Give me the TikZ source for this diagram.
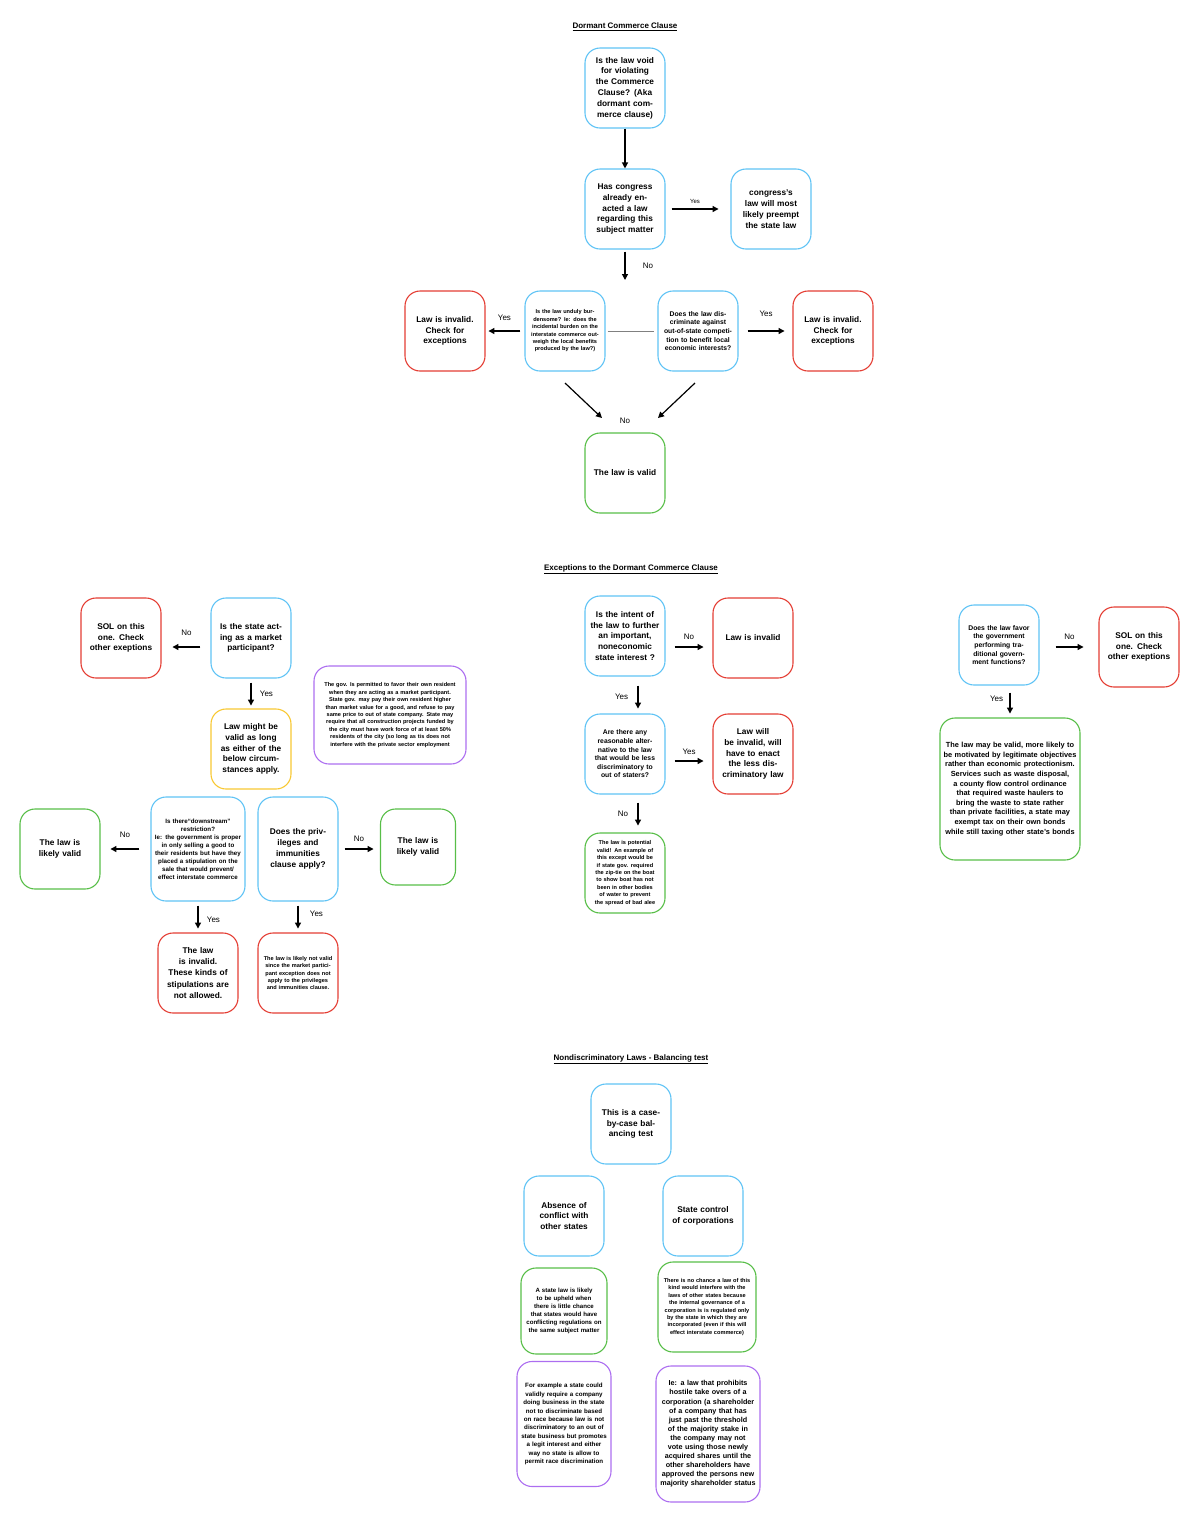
\documentclass[tikz,border=0pt]{standalone}
\usepackage{fontspec}
\setmainfont{Liberation Sans}
\usetikzlibrary{arrows.meta}
\definecolor{qblue}{RGB}{95,195,245}
\definecolor{nred}{RGB}{228,62,52}
\definecolor{ygreen}{RGB}{88,190,72}
\definecolor{myellow}{RGB}{248,200,50}
\definecolor{npurple}{RGB}{172,110,240}
\tikzset{
  box/.style={draw, rounded corners=15pt, line width=1.1pt, align=center, inner sep=2pt,
    minimum width=80pt, minimum height=80pt, text width=70pt, font=\bfseries\fontsize{8.3}{10.8}\selectfont},
  small/.style={font=\bfseries\fontsize{5.6}{7.4}\selectfont},
  mid/.style={font=\bfseries\fontsize{6.8}{8.6}\selectfont},
  q/.style={box, qblue},
  bad/.style={box, nred},
  good/.style={box, ygreen},
  maybe/.style={box, myellow},
  note/.style={box, npurple},
  go/.style={-{Triangle[length=6pt,width=6pt]}, line width=1.2pt},
  lab/.style={font=\fontsize{8}{9}\selectfont},
  slab/.style={font=\fontsize{6}{7}\selectfont},
  ttl/.style={font=\bfseries\fontsize{8}{9}\selectfont}
}
\begin{document}
\begin{tikzpicture}[x=1pt,y=-1pt]
\useasboundingbox (0,0) rectangle (1200,1535);

\node[ttl] (t1) at (625,27) {\underline{Dormant Commerce Clause}};
\node[q, text=black] (void) at (625,88) {Is the law void for violating the Commerce Clause? (Aka dormant commerce clause)};
\node[q, text=black] (cong) at (625,209) {Has congress already enacted a law regarding this subject matter};
\node[q, text=black] (preempt) at (771,209) {congress's law will most likely preempt the state law};
\node[q, text=black, small] (burden) at (565,331) {Is the law unduly burdensome? Ie: does the incidental burden on the interstate commerce outweigh the local benefits produced by the law?)};
\node[q, text=black, mid] (discr) at (698,331) {Does the law discriminate against out-of-state competition to benefit local economic interests?};
\node[bad, text=black] (invL) at (445,331) {Law is invalid. Check for exceptions};
\node[bad, text=black] (invR) at (833,331) {Law is invalid. Check for exceptions};
\node[good, text=black] (valid) at (625,473) {The law is valid};
\coordinate (split) at (625,280);
\coordinate (meet) at (625,421);

\draw[go] (void) -- (cong);
\draw[go] (cong.east) ++(6,0) -- ++(47,0) node[slab, midway, above=2pt] {Yes};
\draw[go] (cong.south) ++(0,2) -- (split) node[lab, pos=0.5, right=14pt] {No};
\draw[go] (burden.west) ++(-4,0) -- ++(-32,0) node[lab, midway, above=6pt] {Yes};
\draw[go] (discr.east) ++(9,0) -- ++(37,0) node[lab, midway, above=10pt] {Yes};
\draw[gray, line width=0.6pt] (burden.east) ++(2,0) -- ([xshift=-3pt]discr.west);
\draw[go] (565,383) -- (602,418);
\draw[go] (695,383) -- (658,418);
\node[lab] (nolab) at (meet) {No};

\node[ttl] (t2) at (631,569) {\underline{Exceptions to the Dormant Commerce Clause}};
\node[q, text=black] (market) at (251,638) {Is the state acting as a market participant?};
\node[bad, text=black] (sol1) at (121,638) {SOL on this one. Check other exeptions};
\node[maybe, text=black] (might) at (251,749) {Law might be valid as long as either of the below circumstances apply.};
\node[note, text=black, small, minimum width=152pt, minimum height=98pt, text width=146pt] (mpnote) at (390,715) {The gov. Is permitted to favor their own resident when they are acting as a market participant. State gov. may pay their own resident higher than market value for a good, and refuse to pay same price to out of state company. State may require that all construction projects funded by the city must have work force of at least 50\% residents of the city (so long as tis does not interfere with the private sector employment};
\node[q, text=black, font=\bfseries\fontsize{6.2}{8}\selectfont, minimum width=94pt, minimum height=104pt, text width=88pt] (down) at (198,849) {Is there``downstream'' restriction?\\Ie: the government is proper in only selling a good to their residents but have they placed a stipulation on the sale that would prevent/ effect interstate commerce};
\node[q, text=black, minimum height=104pt] (priv) at (298,849) {Does the privileges and immunities clause apply?};
\node[good, text=black] (valL) at (60,849) {The law is likely valid};
\node[good, text=black, minimum width=75pt, minimum height=76pt] (valR) at (418,847) {The law is likely valid};
\node[bad, text=black, font=\bfseries\fontsize{8.3}{11.2}\selectfont] (inv1) at (198,973) {The law\\is invalid. These kinds of stipulations are not allowed.};
\node[bad, text=black, small] (inv2) at (298,973) {The law is likely not valid since the market participant exception does not apply to the privileges and immunities clause.};

\draw[go] (market.west) ++(-10,9) -- ++(-28,0) node[lab, midway, above=8pt] {No};
\draw[go] (market.south) ++(0,4) -- ++(0,23) node[lab, midway, right=5pt] {Yes};
\draw[go] (down.west) ++(-11,0) -- ++(-29,0) node[lab, midway, above=8pt] {No};
\draw[go] (priv.east) ++(6,0) -- ++(29,0) node[lab, midway, above=4pt] {No};
\draw[go] (down.south) ++(0,4) -- ++(0,23) node[lab, pos=0.6, right=5pt] {Yes};
\draw[go] (priv.south) ++(0,4) -- ++(0,23) node[lab, pos=0.35, right=8pt] {Yes};

\node[q, text=black] (intent) at (625,636) {Is the intent of the law to further an important, noneconomic state interest ?};
\node[bad, text=black] (inv3) at (753,638) {Law is invalid};
\node[q, text=black, mid] (alt) at (625,754) {Are there any reasonable alternative to the law that would be less discriminatory to out of staters?};
\node[bad, text=black] (less) at (753,754) {Law will\\be invalid, will have to enact the less discriminatory law};
\node[good, text=black, small] (pot) at (625,873) {The law is potential valid! An example of this except would be if state gov. required the zip-tie on the boat to show boat has not been in other bodies of water to prevent the spread of bad alee};

\draw[go] (intent.east) ++(9,11) -- ++(29,0) node[lab, midway, above=4pt] {No};
\draw[go] (intent.south) ++(13,9) -- ++(0,23) node[lab, midway, left=6pt] {Yes};
\draw[go] (alt.east) ++(9,7) -- ++(29,0) node[lab, midway, above=3pt] {Yes};
\draw[go] (alt.south) ++(13,8) -- ++(0,23) node[lab, midway, left=6pt] {No};

\node[q, text=black, mid] (gov) at (999,645) {Does the law favor the government performing traditional government functions?};
\node[bad, text=black] (sol2) at (1139,647) {SOL on this one. Check other exeptions};
\node[good, text=black, font=\bfseries\fontsize{7.4}{9.6}\selectfont, minimum width=140pt, minimum height=142pt, text width=134pt] (bonds) at (1010,789) {The law may be valid, more likely to be motivated by legitimate objectives rather than economic protectionism. Services such as waste disposal, a county flow control ordinance that required waste haulers to bring the waste to state rather than private facilities, a state may exempt tax on their own bonds while still taxing other state's bonds};

\draw[go] (gov.east) ++(16,2) -- ++(28,0) node[lab, midway, above=4pt] {No};
\draw[go] (gov.south) ++(11,7) -- ++(0,21) node[lab, pos=0.3, left=3pt] {Yes};

\node[ttl] (t3) at (631,1059) {\underline{Nondiscriminatory Laws - Balancing test}};
\node[q, text=black] (case) at (631,1124) {This is a case-by-case balancing test};
\node[q, text=black] (absence) at (564,1216) {Absence of conflict with other states};
\node[q, text=black] (control) at (703,1216) {State control of corporations};
\node[good, text=black, font=\bfseries\fontsize{6.1}{8}\selectfont, minimum width=86pt, minimum height=86pt, text width=78pt] (upheld) at (564,1311) {A state law is likely to be upheld when there is little chance that states would have conflicting regulations on the same subject matter};
\node[good, text=black, small, minimum width=98pt, minimum height=90pt, text width=92pt] (internal) at (707,1307) {There is no chance a law of this kind would interfere with the laws of other states because the internal governance of a corporation is is regulated only by the state in which they are incorporated (even if this will effect interstate commerce)};
\node[note, text=black, font=\bfseries\fontsize{6.2}{8.4}\selectfont, minimum width=94pt, minimum height=125pt, text width=88pt] (race) at (564,1424) {For example a state could validly require a company doing business in the state not to discriminate based on race because law is not discriminatory to an out of state business but promotes a legit interest and either way no state is allow to permit race discrimination};
\node[note, text=black, font=\bfseries\fontsize{7.2}{9.1}\selectfont, minimum width=104pt, minimum height=136pt, text width=98pt] (takeover) at (708,1434) {Ie: a law that prohibits hostile take overs of a corporation (a shareholder of a company that has just past the threshold of the majority stake in the company may not vote using those newly acquired shares until the other shareholders have approved the persons new majority shareholder status};
\end{tikzpicture}
\end{document}
